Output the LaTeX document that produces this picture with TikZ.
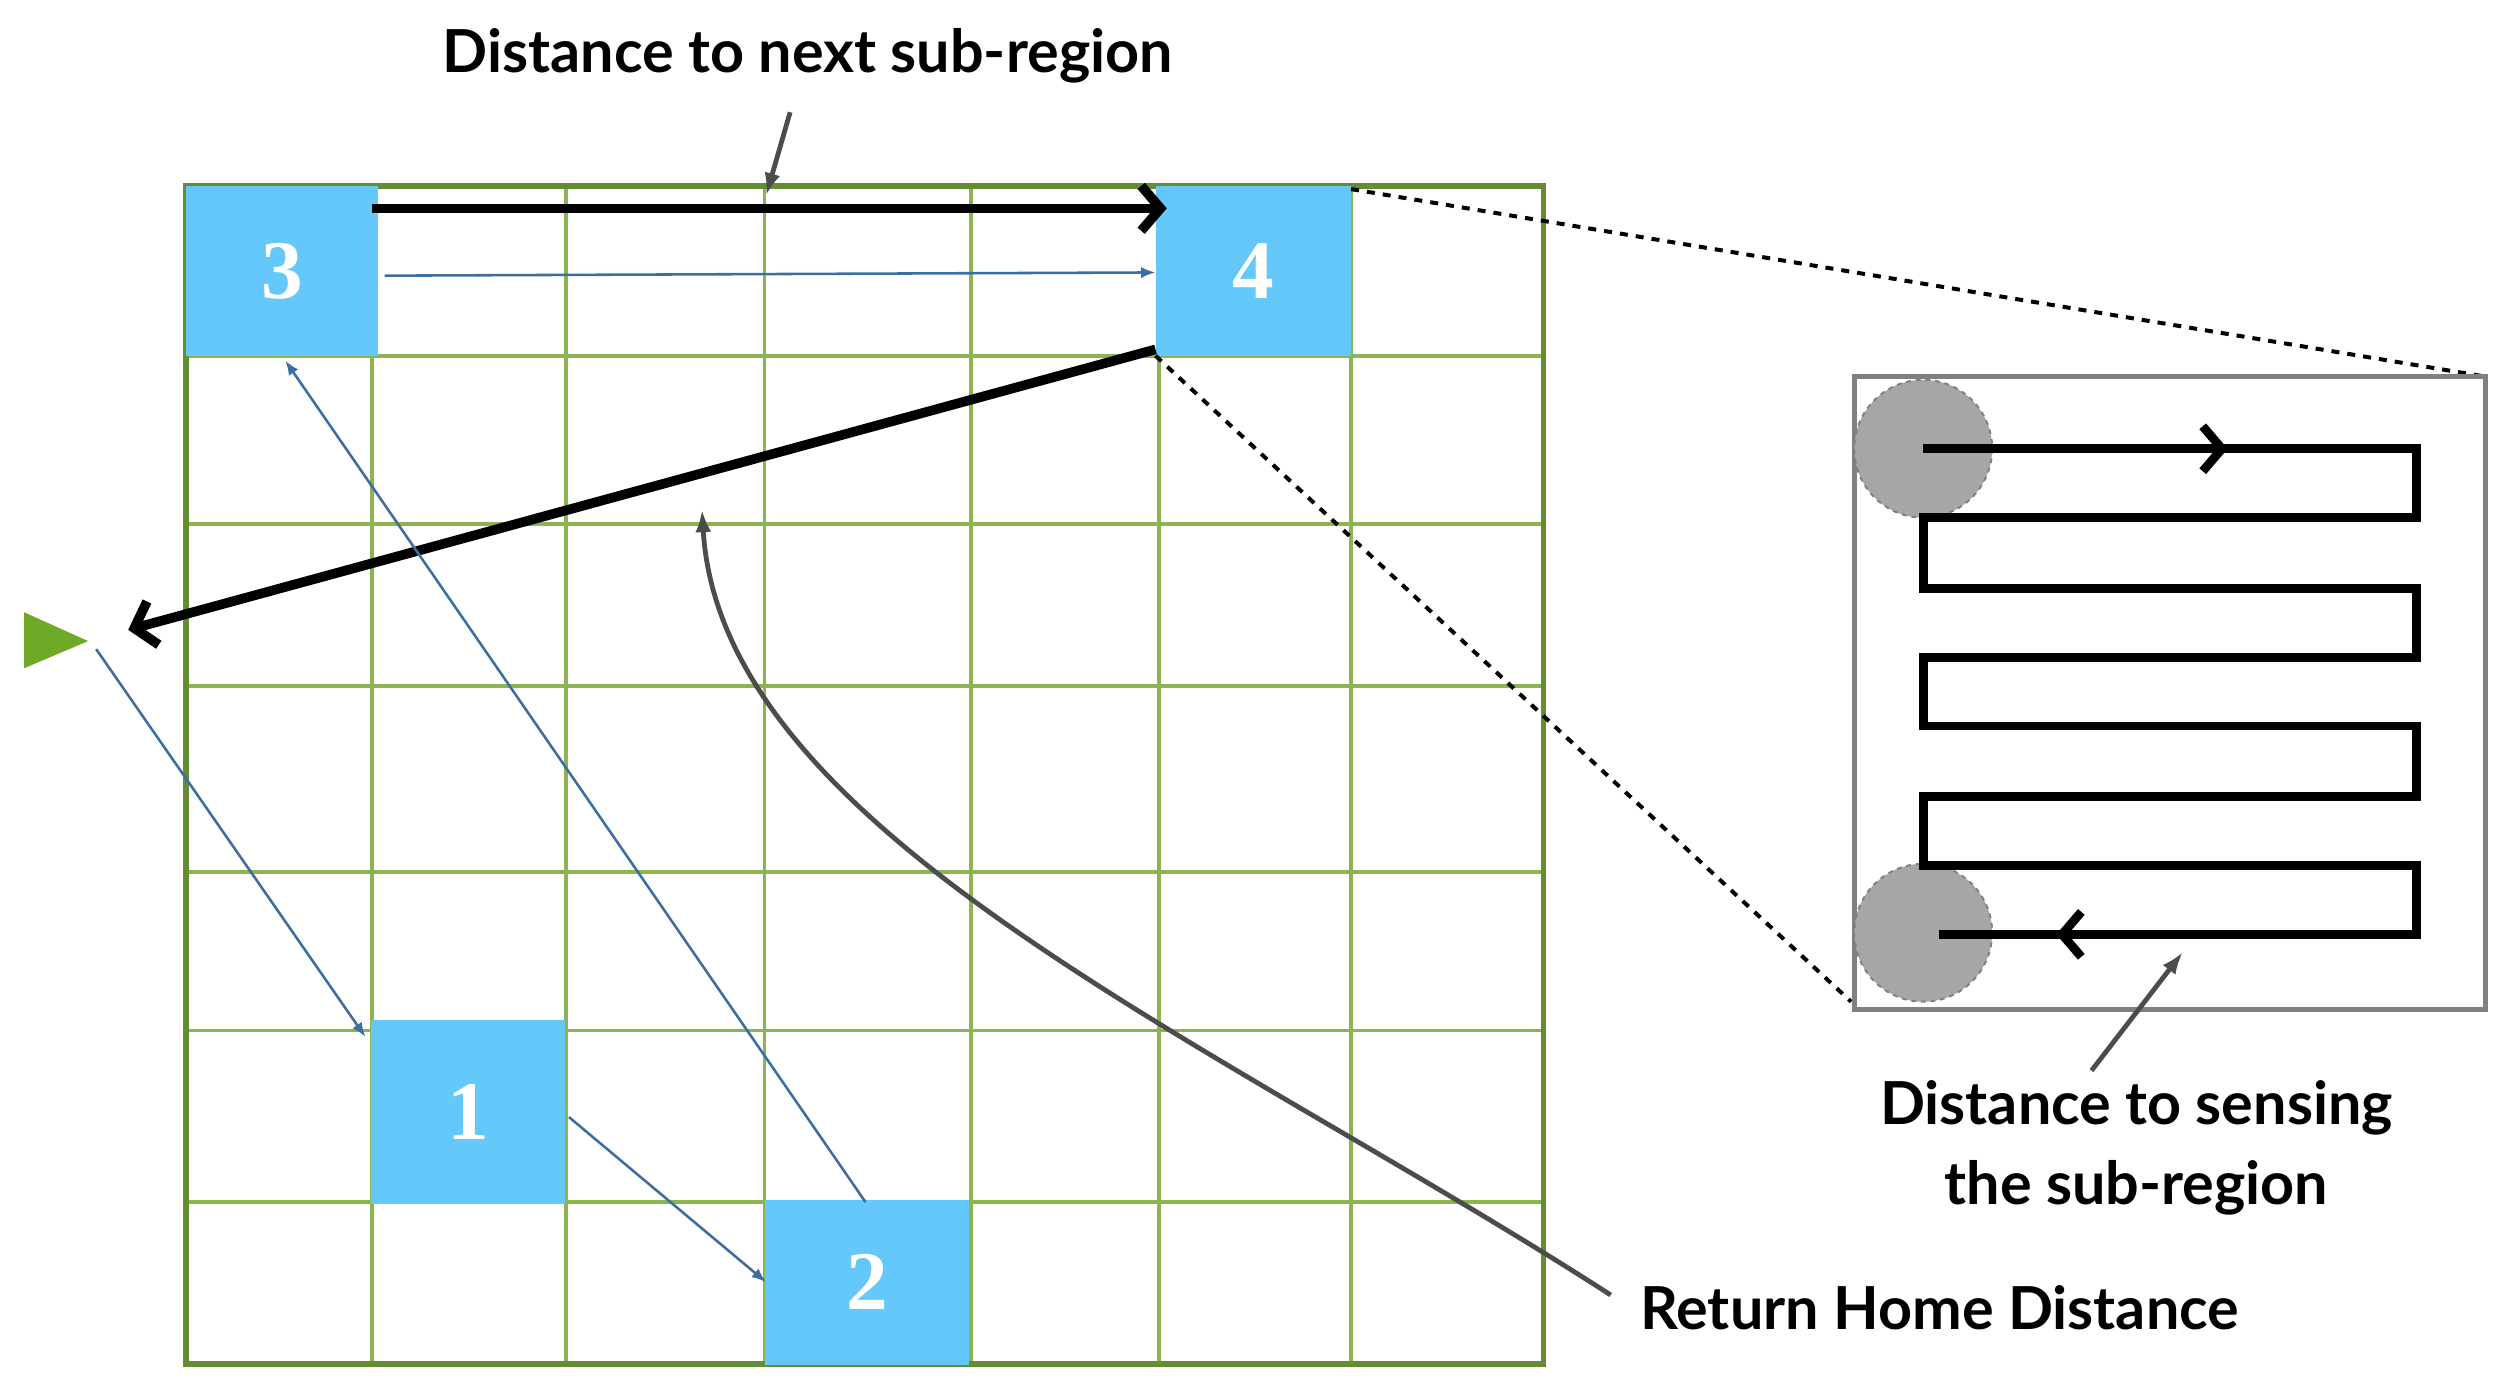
\documentclass[tikz,border=0pt]{standalone}
\usepackage{fontspec}
\setmainfont{Lato}
\newfontfamily\numfont{Liberation Serif}
\usetikzlibrary{arrows.meta}
\definecolor{grid}{RGB}{140,180,80}
\definecolor{gridd}{RGB}{100,140,50}
\definecolor{sq}{RGB}{100,200,250}
\definecolor{blu}{RGB}{60,110,160}
\definecolor{grn}{RGB}{110,170,40}
\begin{document}
\begin{tikzpicture}[x=1pt,y=-1pt,
 lbl/.style={font=\fontsize{37}{44}\selectfont\bfseries},
 sqr/.style={fill=sq,inner sep=0,font=\numfont\fontsize{52}{52}\selectfont\bfseries,text=white},
 thick arr/.style={line width=6pt,-{Straight Barb[length=12pt,width=28pt]}},
 thin arr/.style={blu,line width=1.6pt,-{Latex[length=9pt,width=7pt]}},
 ptr/.style={gray!60!black,line width=3pt,-{Latex[length=14pt,width=10pt]}}]
\useasboundingbox (0,0) rectangle (1563,872);
% grid
\foreach \x in {232,353,477,606,723,843} \draw[grid,line width=2.2pt] (\x,116)--(\x,851);
\foreach \y in {222,327,428,544,643,750} \draw[grid,line width=2.2pt] (116,\y)--(963,\y);
\draw[gridd,line width=3.5pt] (116,116) rectangle (963,851);
% squares
\node[sqr,minimum width=120,minimum height=106] (s3) at (176,169) {3};
\node[sqr,minimum width=122,minimum height=106] (s4) at (782,169) {4};
\node[sqr,minimum width=121,minimum height=115] (s1) at (292,694) {1};
\node[sqr,minimum width=127,minimum height=103] (s2) at (541,800) {2};
\fill[grn] (15,382)--(55,400)--(15,417)--cycle;
\coordinate (tri) at (60,405);
% arrows
\coordinate (a1) at (232,130); \coordinate (a2) at (728,130);
\draw[thick arr] (a1)--(a2);
\draw[thin arr] (240,172)--(721,170);
\coordinate (b1) at (721,218); \coordinate (b2) at (80,393);
\draw[thick arr] (b1)--(b2);
\draw[thin arr] (tri)--(228,647);
\draw[thin arr] (355,697)--(478,800);
\draw[thin arr] (540,750)--(178,225);
\coordinate (rh) at (1005,808);
\draw[ptr] (rh) .. controls (760,650) and (450,520) .. (438,318);
\node[lbl,anchor=west] (rhl) at (1020,816) {Return Home Distance};
\node[lbl] (dn) at (504,35) {Distance to next sub-region};
\draw[ptr] (493,70)--(478,122);
% zoom
\draw[line width=2.5pt,dash pattern=on 5pt off 5pt] (843,118)--(1551,235);
\draw[line width=2.5pt,dash pattern=on 5pt off 5pt] (721,222)--(1155,625);
\draw[gray,line width=3pt,fill=white] (1157,235) rectangle (1551,630);
\fill[gray!70] (1200,280) circle (43); \draw[gray,dashed,line width=1.2pt] (1200,280) circle (43);
\fill[gray!70] (1200,582) circle (43); \draw[gray,dashed,line width=1.2pt] (1200,582) circle (43);
\draw[line width=5.5pt,line join=miter] (1200,280)--(1508,280)--(1508,323)--(1200,323)--(1200,367)--(1508,367)--(1508,410)--(1200,410)--(1200,453)--(1508,453)--(1508,497)--(1200,497)--(1200,540)--(1508,540)--(1508,583)--(1210,583);
\draw[line width=5.5pt,-{Straight Barb[length=12pt,width=28pt]}] (1360,280)--(1390,280);
\draw[line width=5.5pt,-{Straight Barb[length=12pt,width=28pt]}] (1310,583)--(1283,583);
\draw[ptr] (1305,668)--(1362,594);
\node[lbl,align=center] (ds) at (1333,716) {Distance to sensing\\[6pt]the sub-region};
\end{tikzpicture}
\end{document}
